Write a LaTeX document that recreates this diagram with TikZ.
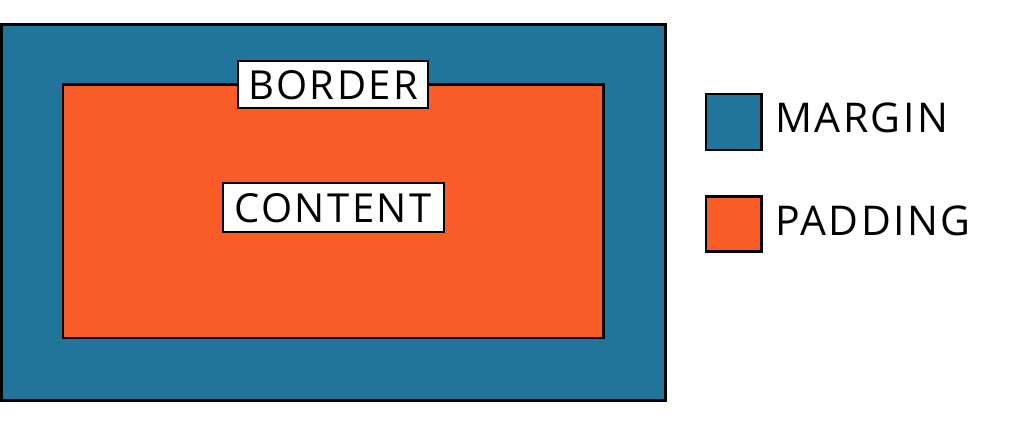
\documentclass[tikz,border=0pt]{standalone}
\usepackage{fontspec}
\setmainfont[LetterSpace=6]{Open Sans}
\definecolor{marginblue}{HTML}{21759B}
\definecolor{paddingorange}{HTML}{F95C27}
\begin{document}
\begin{tikzpicture}[x=1pt,y=-1pt,
  box/.style={draw=black,line width=2.5pt},
  lbl/.style={draw=black,fill=white,line width=2pt,inner sep=0pt,font=\fontsize{40}{42}\selectfont,text depth=0pt},
  leg/.style={anchor=west,inner sep=0pt,font=\fontsize{41}{43}\selectfont}]
\useasboundingbox (0,0) rectangle (1024,427);
\fill[white] (0,0) rectangle (1024,427);
\draw[box,fill=marginblue] (1.5,24.5) rectangle (665.5,400.5);
\draw[box,fill=paddingorange] (63,84.5) rectangle (603.5,338);
\node[lbl,minimum width=190pt,minimum height=47pt] (border) at (333,85) {BORDER};
\node[lbl,minimum width=221pt,minimum height=49pt] (content) at (333,208) {CONTENT};
\draw[box,fill=marginblue] (706,94) rectangle (761.5,150) coordinate (m);
\draw[box,fill=paddingorange] (706,196.5) rectangle (761.5,251.5) coordinate (p);
\node[leg] (margin) at (775,118) {MARGIN};
\node[leg] (padding) at (775,221) {PADDING};
\end{tikzpicture}
\end{document}
